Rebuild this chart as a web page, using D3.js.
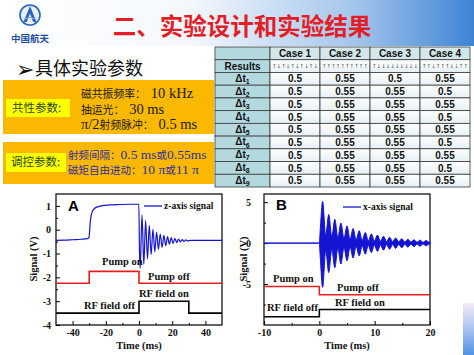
<!DOCTYPE html>
<html><head><meta charset="utf-8">
<script src="https://cdn.jsdelivr.net/npm/d3@7"></script>
<style>
html,body{margin:0;padding:0;background:#fff;}
svg{display:block;}
text{white-space:pre;}
</style></head><body>
<svg id="c" width="474" height="355"></svg>
<script>
// ---------- data ----------
const titleText = "二、实验设计和实验结果";
const sectionTitle = "具体实验参数";
const commonLabel = "共性参数:";
const controlLabel = "调控参数:";
const commonLines = ["磁共振频率：10 kHz", "抽运光：30 ms", "π/2射频脉冲：0.5 ms"];
const controlLines = ["射频间隔：0.5 ms或0.55ms", "磁矩自由进动：10 π或11 π"];

const cases = ["Case 1", "Case 2", "Case 3", "Case 4"];
const results = ["↑↓↑↓↑↓↑↓↑↓", "↑↑↑↑↑↑↑↑↑↑", "↑↓↓↓↓↓↓↓↓↓", "↑↑↓↑↑↑↓↓↑↑"];
const dtRows = ["1","2","3","4","5","6","7","8","9"];
const case1 = [0.5,0.5,0.5,0.5,0.5,0.5,0.5,0.5,0.5];
const case2 = [0.55,0.55,0.55,0.55,0.55,0.55,0.55,0.55,0.55];
const case3 = [0.5,0.55,0.55,0.55,0.55,0.55,0.55,0.55,0.55];
const case4 = [0.55,0.5,0.55,0.5,0.55,0.5,0.55,0.5,0.55];

// Chart A (z-axis signal)
const aXTicks = [-40,-20,0,20,40];
const aYTicks = [-4,-3,-2,-1,0,1];
const aT = [-50,-45,-40,-35,-31,-30.2,-29.8,-29.4,-28.8,-28,-27,-25,-22,-18,-12,-5,-0.1,0.3,0.7,1.8,2.9,4.0,5.1,6.2,7.3,8.4,9.5,10.6,11.7,12.8,13.9,15.0,16.1,17.2,18.3,19.4,20.5,21.6,22.7,23.8,24.9,26.0,27.1,28.2,29.3,31,40,50];
const aV = [-0.45,-0.44,-0.42,-0.40,-0.37,-0.34,-0.1,0.3,0.6,0.78,0.88,0.96,1.01,1.04,1.06,1.07,1.07,-0.9,-1.62,0.62,-1.45,0.38,-1.22,0.18,-1.05,0.02,-0.92,-0.1,-0.82,-0.18,-0.74,-0.24,-0.67,-0.29,-0.61,-0.33,-0.57,-0.36,-0.54,-0.39,-0.51,-0.41,-0.49,-0.43,-0.47,-0.45,-0.45,-0.45];
const aPumpT = [-50,-30,0,50];
const aPumpV = [-2.25,-1.75,-2.25,-2.25];
const aRfT = [-50,0,30,50];
const aRfV = [-3.5,-3.0,-3.5,-3.5];

// Chart B (x-axis signal, envelope of the fast oscillation)
const bXTicks = [-10,0,10,20];
const bYTicks = [-5,0,5];
const bT  = [-10,0,0.15,0.6,1.15,1.7,2.25,2.8,3.35,3.9,4.45,5.0,5.55,6.1,6.65,7.2,7.75,8.3,8.85,9.4,9.95,10.5,11.05,11.6,12.15,12.7,13.25,13.8,14.35,14.9,15.45,16.0,16.55,17.1,17.65,18.2,18.75,19.3,19.85,20];
const bUp = [0,0,1.5,5.1,0.9,3.5,0.75,2.9,0.65,2.45,0.55,2.1,0.46,1.78,0.4,1.52,0.34,1.3,0.3,1.12,0.26,0.98,0.23,0.84,0.2,0.72,0.18,0.62,0.16,0.54,0.14,0.47,0.13,0.41,0.12,0.36,0.11,0.32,0.1,0.15];
const bLo = [0,0,-1.5,-5.4,-0.9,-3.6,-0.75,-3.0,-0.65,-2.55,-0.55,-2.15,-0.46,-1.82,-0.4,-1.56,-0.34,-1.34,-0.3,-1.15,-0.26,-1.0,-0.23,-0.86,-0.2,-0.74,-0.18,-0.64,-0.16,-0.56,-0.14,-0.49,-0.13,-0.43,-0.12,-0.38,-0.11,-0.33,-0.1,-0.15];
const bPumpT = [-10,0,20];
const bPumpV = [-5.3,-6.3,-6.3];
const bRfT = [-10,0,20];
const bRfV = [-9.0,-8.1,-8.1];

// ---------- drawing ----------
const svg = d3.select("#c");
const defs = svg.append("defs");
const CJK = "'Noto Sans CJK SC'";
const SERIF = "'Liberation Serif','Times New Roman',serif";
const SANS = "'Liberation Sans',Arial,sans-serif";

function grad(id, vertical, stops) {
  const g = defs.append("linearGradient").attr("id", id)
    .attr("x1", 0).attr("y1", 0).attr("x2", vertical ? 0 : 1).attr("y2", vertical ? 1 : 0);
  stops.forEach(([o, c]) => g.append("stop").attr("offset", o).attr("stop-color", c));
}
grad("hg", false, [[0,"#ffffff"],[0.4,"#f4f8fd"],[0.75,"#a3c5ec"],[1,"#3f84d4"]]);
grad("deco", true, [[0,"#f6eaf6"],[0.4,"#b9cdf2"],[1,"#4f92e6"]]);
grad("cellg", true, [[0,"#ffffff"],[1,"#e6f0f5"]]);

// header
svg.append("rect").attr("x",0).attr("y",0).attr("width",474).attr("height",46).attr("fill","url(#hg)");
const logo = svg.append("g");
logo.append("circle").attr("cx",30).attr("cy",15).attr("r",10).attr("fill","#e6effa").attr("stroke","#2a64b8").attr("stroke-width",1.6);
logo.append("path").attr("d","M30,6 L36.5,22 L33.2,22 L30,13.5 L26.8,22 L23.5,22 Z").attr("fill","#2a64b8");
logo.append("path").attr("d","M24,19 Q30,16 36,19").attr("fill","none").attr("stroke","#7fb0e8").attr("stroke-width",1);
logo.append("text").attr("x",30).attr("y",42).attr("text-anchor","middle")
  .style("font-family",CJK).style("font-weight","bold").style("font-size","9.5px").attr("fill","#1d4e9e").text("中国航天");
svg.append("text").attr("x",242).attr("y",35).attr("text-anchor","middle")
  .style("font-family",CJK).style("font-weight","bold").style("font-size","23.5px").attr("fill","#e41e26").text(titleText);

// decorative corner
svg.append("rect").attr("x",463).attr("y",303).attr("width",11).attr("height",52).attr("fill","url(#deco)");

// left panel
svg.append("text").attr("x",16).attr("y",77).style("font-family","'DejaVu Sans'").style("font-size","22px").attr("fill","#111").text("➢");
svg.append("text").attr("x",35).attr("y",75).style("font-family",CJK).style("font-size","18px").attr("fill","#111").text(sectionTitle);

const ORANGE = "#fbb800";
svg.append("rect").attr("x",3).attr("y",80).attr("width",211).attr("height",54).attr("fill",ORANGE);
svg.append("rect").attr("x",3).attr("y",142).attr("width",211).attr("height",42).attr("fill",ORANGE);
svg.append("rect").attr("x",6).attr("y",99).attr("width",64).attr("height",18).attr("fill","#ffff00");
svg.append("rect").attr("x",6).attr("y",153).attr("width",60).attr("height",19).attr("fill","#ffff00");
svg.append("text").attr("x",12).attr("y",112).style("font-family",CJK).style("font-size","11.5px").attr("fill","#2c4a1c").text(commonLabel);
svg.append("text").attr("x",11).attr("y",166).style("font-family",CJK).style("font-size","11.5px").attr("fill","#2c4a1c").text(controlLabel);

const cjkRe = /[\u3000-\u303f\u4e00-\u9fff\uff00-\uffef]/;
function richText(x, y, str, color, cjkSize, latSize, colonGap) {
  const t = svg.append("text").attr("x", x).attr("y", y).attr("fill", color);
  const parts = str.match(/[\u3000-\u303f\u4e00-\u9fff\uff00-\uffef]+|[^\u3000-\u303f\u4e00-\u9fff\uff00-\uffef]+/g);
  let prev = "";
  parts.forEach(p => {
    const c = cjkRe.test(p);
    const ts = t.append("tspan").style("font-family", c ? CJK : SERIF)
      .style("font-size", (c ? cjkSize : latSize) + "px").text(p);
    if (!c && prev.endsWith("：")) ts.attr("dx", colonGap);
    prev = p;
  });
}
commonLines.forEach((s, i) => richText(81, 98 + i * 15.5, s, "#1a1a1a", 10.8, 14.5, 5));
controlLines.forEach((s, i) => richText(68, 158.5 + i * 15, s, "#2e2e9e", 10.5, 13.5, 0));

// table
const colX = d3.scaleBand().domain(cases).range([270, 470]);
const rowKeys = ["head", "res"].concat(dtRows);
const rowY = d3.scaleBand().domain(rowKeys).range([47, 187]);
const tbl = svg.append("g");
const caseVals = [case1, case2, case3, case4];
rowKeys.forEach(r => {
  tbl.append("rect").attr("x",215).attr("y",rowY(r)).attr("width",55).attr("height",rowY.bandwidth())
    .attr("fill","#b3d9df").attr("stroke","#3a3a3a").attr("stroke-width",0.8);
  cases.forEach(c => {
    tbl.append("rect").attr("x",colX(c)).attr("y",rowY(r)).attr("width",colX.bandwidth()).attr("height",rowY.bandwidth())
      .attr("fill", r === "head" ? "#d3e7eb" : "url(#cellg)").attr("stroke","#3a3a3a").attr("stroke-width",0.8);
  });
});
const cy = r => rowY(r) + rowY.bandwidth() / 2;
cases.forEach((c, i) => {
  tbl.append("text").attr("x", colX(c) + colX.bandwidth()/2).attr("y", cy("head")).attr("dy","0.36em")
    .attr("text-anchor","middle").style("font-family",SANS).style("font-weight","bold").style("font-size","10px").attr("fill","#111").text(c);
  tbl.append("text").attr("x", colX(c) + colX.bandwidth()/2).attr("y", cy("res")).attr("dy","0.36em")
    .attr("text-anchor","middle").style("font-family","'DejaVu Sans'").style("font-size","5.5px").attr("fill","#555").text(results[i]);
  dtRows.forEach((r, j) => {
    tbl.append("text").attr("x", colX(c) + colX.bandwidth()/2).attr("y", cy(r)).attr("dy","0.36em")
      .attr("text-anchor","middle").style("font-family",SANS).style("font-weight","bold").style("font-size","10px").attr("fill","#111").text(caseVals[i][j]);
  });
});
tbl.append("text").attr("x",242.5).attr("y",cy("res")).attr("dy","0.36em").attr("text-anchor","middle")
  .style("font-family",SANS).style("font-weight","bold").style("font-size","10px").attr("fill","#111").text("Results");
dtRows.forEach(r => {
  const t = tbl.append("text").attr("x",242.5).attr("y",cy(r)).attr("dy","0.3em").attr("text-anchor","middle")
    .style("font-family",SANS).style("font-weight","bold").style("font-size","10px").attr("fill","#111");
  t.append("tspan").text("Δt");
  t.append("tspan").attr("dy","0.3em").style("font-size","7px").text(r);
});

// charts
function chart(cfg) {
  const g = svg.append("g");
  const x = d3.scaleLinear().domain(cfg.xd).range(cfg.xr);
  const y = d3.scaleLinear().domain(cfg.yd).range(cfg.yr);
  const fmt = d => String(d);
  g.append("g").attr("transform", `translate(0,${cfg.yr[0]})`)
    .call(d3.axisBottom(x).tickValues(cfg.xt).tickSize(-4).tickSizeOuter(0).tickPadding(4).tickFormat(fmt));
  g.append("g").attr("transform", `translate(0,${cfg.yr[0]})`)
    .call(d3.axisBottom(x).tickValues(cfg.xm).tickSize(-2).tickSizeOuter(0).tickFormat(""));
  g.append("g").attr("transform", `translate(${cfg.xr[0]},0)`)
    .call(d3.axisLeft(y).tickValues(cfg.yt).tickSize(-4).tickSizeOuter(0).tickPadding(cfg.ypad).tickFormat(fmt));
  g.append("g").attr("transform", `translate(${cfg.xr[0]},0)`)
    .call(d3.axisLeft(y).tickValues(cfg.ym).tickSize(-2).tickSizeOuter(0).tickFormat(""));
  g.selectAll(".domain").remove();
  g.selectAll(".tick line").attr("stroke","#000").attr("stroke-width",1);
  g.selectAll(".tick text").style("font-family",SERIF).style("font-weight","bold").style("font-size","10px").attr("fill","#111");
  g.append("rect").attr("x",cfg.xr[0]).attr("y",cfg.yr[1]).attr("width",cfg.xr[1]-cfg.xr[0]).attr("height",cfg.yr[0]-cfg.yr[1])
    .attr("fill","none").attr("stroke","#000").attr("stroke-width",1.2);
  g.append("text").attr("x",(cfg.xr[0]+cfg.xr[1])/2).attr("y",349).attr("text-anchor","middle")
    .style("font-family",SERIF).style("font-weight","bold").style("font-size","10.5px").attr("fill","#111").text("Time (ms)");
  g.append("text").attr("transform",`translate(${cfg.ylabX},259) rotate(-90)`).attr("text-anchor","middle")
    .style("font-family",SERIF).style("font-weight","bold").style("font-size","10.5px").attr("fill","#111").text("Signal (V)");
  return {g, x, y};
}
function stepLine(c, T, V, color) {
  c.g.append("path").datum(T.map((t,i)=>[t,V[i]]))
    .attr("d", d3.line().x(d=>c.x(d[0])).y(d=>c.y(d[1])).curve(d3.curveStepAfter))
    .attr("fill","none").attr("stroke",color).attr("stroke-width",1.6);
}
function label(c, px, py, txt, size) {
  c.g.append("text").attr("x",px).attr("y",py).style("font-family",SERIF).style("font-weight","bold")
    .style("font-size",(size||10.5)+"px").attr("fill","#111").text(txt);
}
const BLUE = "#1414d2";

// Chart A
const A = chart({xd:[-50,50], xr:[56,222], yd:[-4,1.5], yr:[325,194], xt:aXTicks, xm:[-30,-10,10,30],
  yt:aYTicks, ym:[-3.5,-2.5,-1.5,-0.5,0.5], ypad:5, ylabX:37});
stepLine(A, aPumpT, aPumpV, "#e3201f");
stepLine(A, aRfT, aRfV, "#000");
A.g.append("path").datum(aT.map((t,i)=>[t,aV[i]]))
  .attr("d", d3.line().x(d=>A.x(d[0])).y(d=>A.y(d[1])).curve(d3.curveMonotoneX))
  .attr("fill","none").attr("stroke",BLUE).attr("stroke-width",1.2);
A.g.append("text").attr("x",68).attr("y",211).style("font-family",SANS).style("font-weight","bold").style("font-size","15px").attr("fill","#000").text("A");
A.g.append("line").attr("x1",144).attr("x2",162).attr("y1",206).attr("y2",206).attr("stroke",BLUE).attr("stroke-width",1.3);
label(A, 164, 209, "z-axis signal", 9.5);
label(A, 102, 265, "Pump on");
label(A, 148, 280, "Pump off");
label(A, 139, 297, "RF field on");
label(A, 84, 309, "RF field off");

// Chart B
const B = chart({xd:[-10,20], xr:[264,430], yd:[-10,6], yr:[325,194], xt:bXTicks, xm:[-5,5,15],
  yt:bYTicks, ym:[-7.5,-2.5,2.5], ypad:13, ylabX:247});
stepLine(B, bPumpT, bPumpV, "#e3201f");
stepLine(B, bRfT, bRfV, "#000");
B.g.append("path").datum(bT.map((t,i)=>[t,bUp[i],bLo[i]]))
  .attr("d", d3.area().x(d=>B.x(d[0])).y0(d=>B.y(d[2])).y1(d=>B.y(d[1])).curve(d3.curveMonotoneX))
  .attr("fill",BLUE).attr("stroke",BLUE).attr("stroke-width",1);
B.g.append("text").attr("x",276).attr("y",210).style("font-family",SANS).style("font-weight","bold").style("font-size","15px").attr("fill","#000").text("B");
B.g.append("line").attr("x1",343).attr("x2",361).attr("y1",207).attr("y2",207).attr("stroke",BLUE).attr("stroke-width",1.3);
label(B, 363, 210, "x-axis signal", 9.5);
label(B, 273, 282, "Pump on");
label(B, 337, 291, "Pump off");
label(B, 335, 306, "RF field on");
label(B, 267, 311, "RF field off");
</script>
</body></html>
